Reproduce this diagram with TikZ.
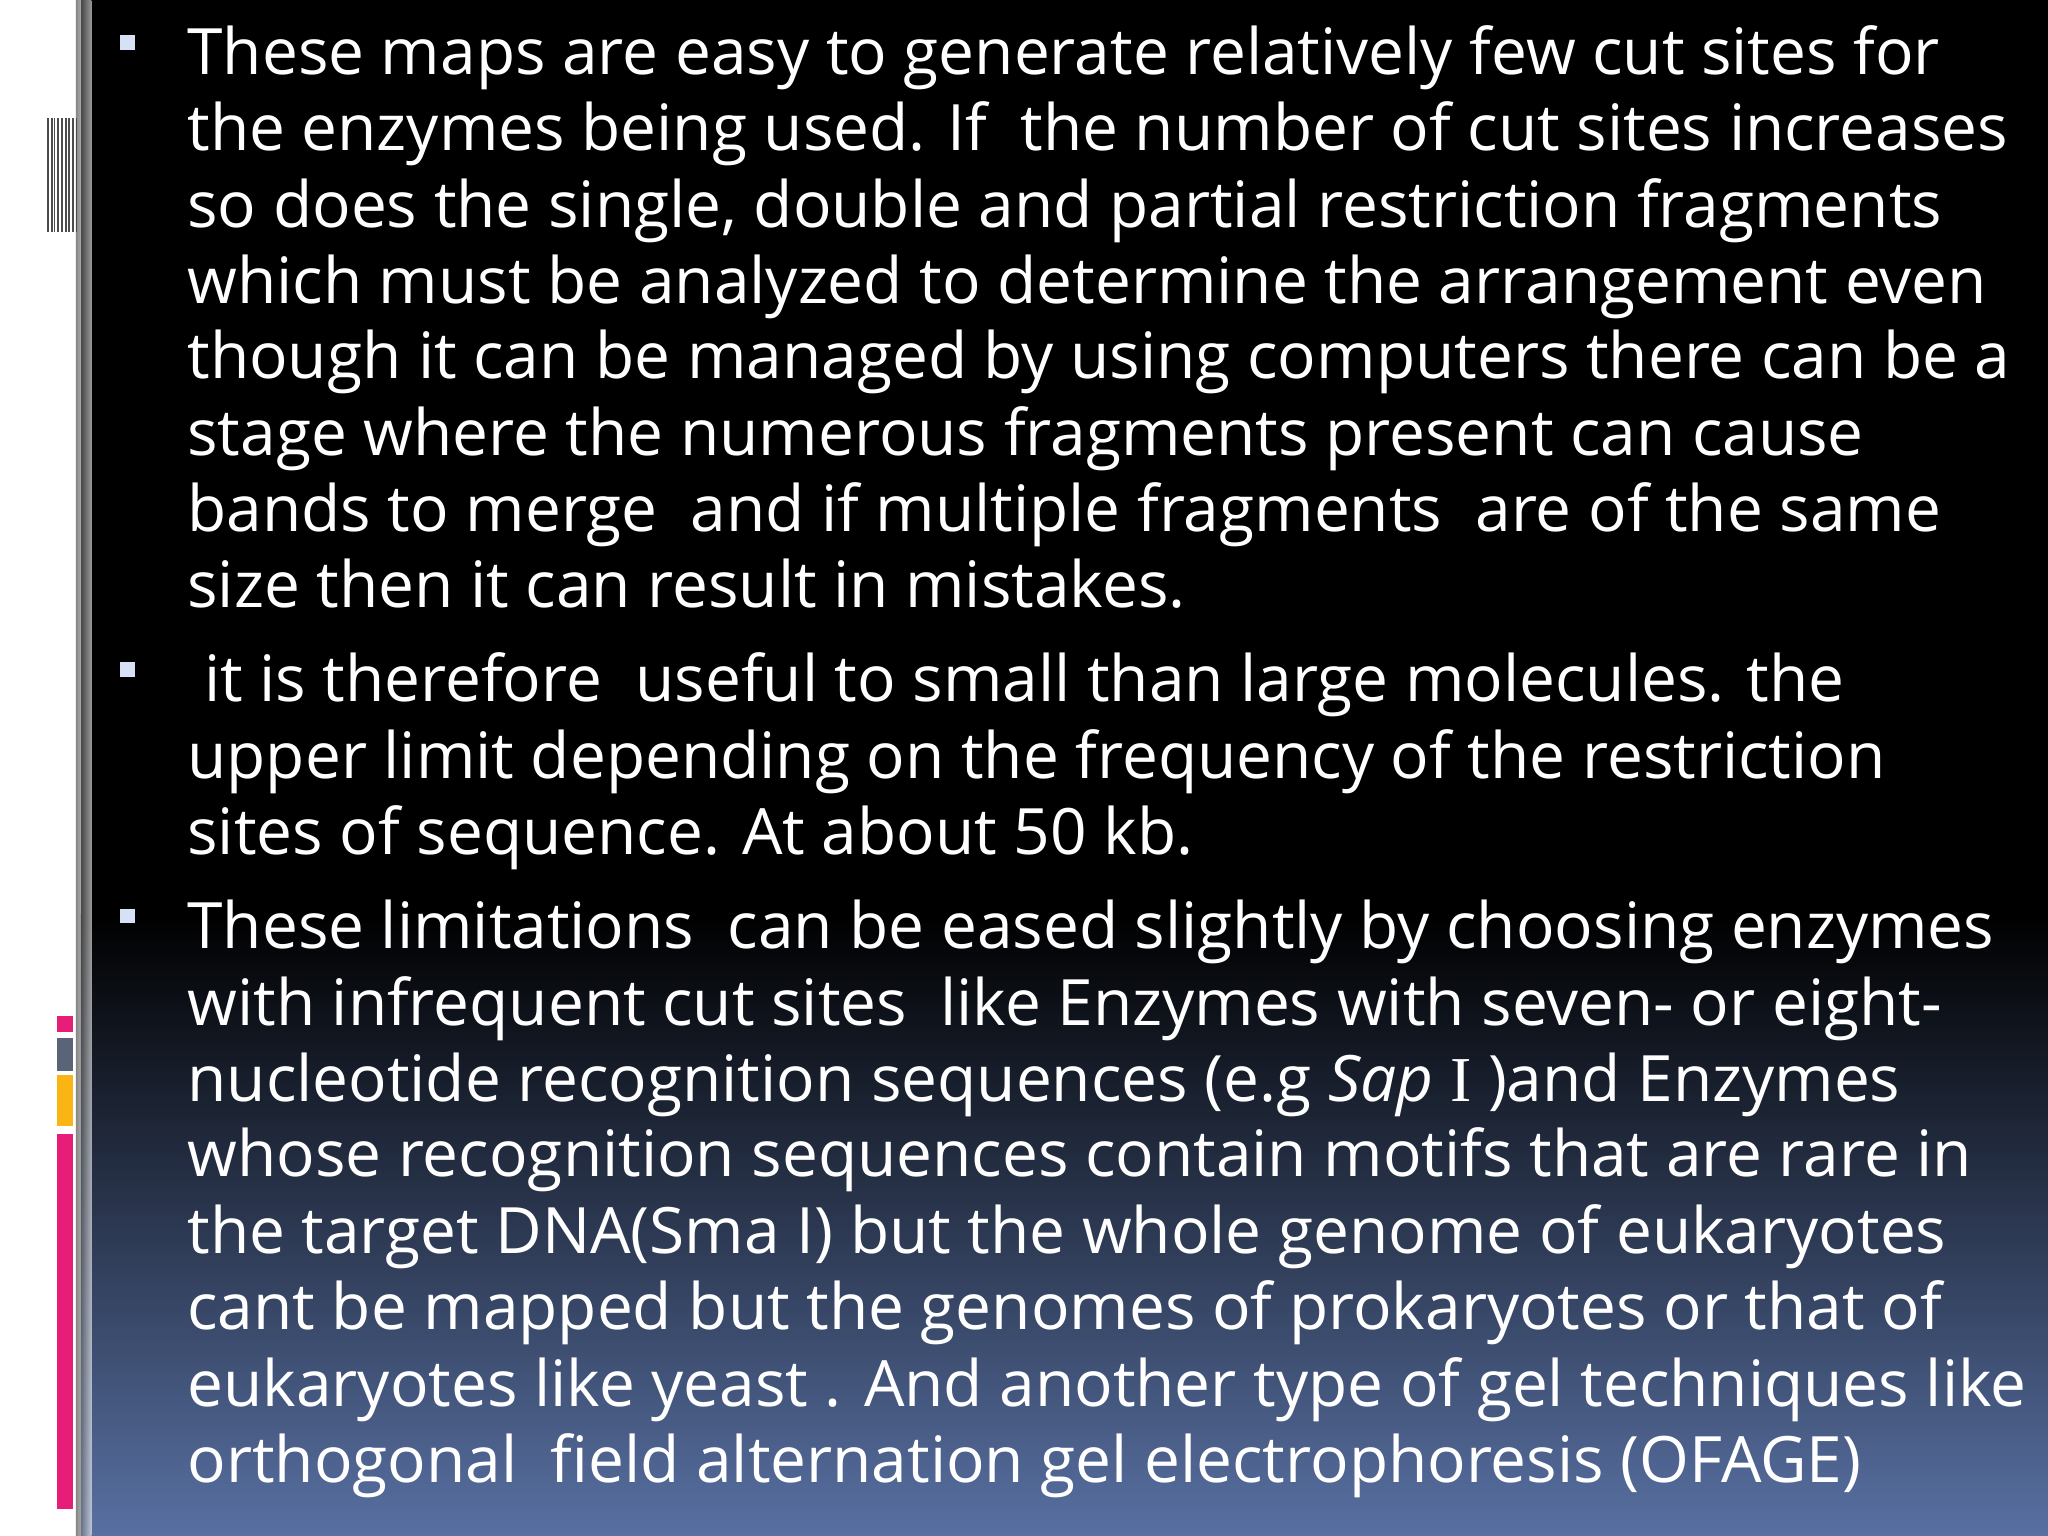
\documentclass[tikz,border=0pt]{standalone}
\usepackage{fontspec}
\setmainfont{Open Sans}
\newfontfamily\serifI{Liberation Serif}
\definecolor{slate}{RGB}{88,112,162}
\definecolor{barpink}{RGB}{230,30,120}
\definecolor{bargray}{RGB}{90,100,120}
\definecolor{barorange}{RGB}{250,180,20}
\definecolor{bulletblue}{RGB}{215,225,245}
\tikzset{
  line/.style={anchor=base west, text=white, inner sep=0pt, font=\fontsize{18.2}{22}\selectfont},
  bullet/.style={fill=bulletblue}
}
\begin{document}
\begin{tikzpicture}[x=0.01306cm, y=-0.01306cm]
\useasboundingbox (0,0) rectangle (1568,1176);
% Background
\fill[white] (0,0) rectangle (1568,1176);
\fill[black] (62,0) rectangle (1568,700);
\shade[top color=black, bottom color=slate] (62,700) rectangle (1568,1176);
\shade[left color=black!80, right color=black!0, opacity=0.6] (58,0) rectangle (70,1176);

% Left decorations
\foreach \x in {36,39,41,44,47,50,52,55,58}
  \fill[black!70] (\x,90) rectangle +(1.3,88);
\fill[barpink] (44,778) rectangle (56,790);
\fill[bargray] (44,795) rectangle (56,820);
\fill[barorange] (44,823) rectangle (56,862);
\fill[barpink] (44,868) rectangle (56,1155);

% Bullets
\fill[bullet] (92,27) rectangle +(11,11);
\fill[bullet] (92,507) rectangle +(11,11);
\fill[bullet] (92,696) rectangle +(11,11);

% First paragraph
\node[line] (a1) at (143,57) {These maps are easy to generate relatively few cut sites for};
\node[line] (a2) at (143,115) {the enzymes being used. If\ \ the number of cut sites increases};
\node[line] (a3) at (143,174) {so does the single, double and partial restriction fragments};
\node[line] (a4) at (143,232) {which must be analyzed to determine the arrangement even};
\node[line] (a5) at (143,290) {though it can be managed by using computers there can be a};
\node[line] (a6) at (143,349) {stage where the numerous fragments present can cause};
\node[line] (a7) at (143,407) {bands to merge\ \ and if multiple fragments\ \ are of the same};
\node[line] (a8) at (143,465) {size then it can result in mistakes.};

% Second paragraph
\node[line] (b1) at (143,537) {\ it is therefore\ \ useful to small than large molecules. the};
\node[line] (b2) at (143,596) {upper limit depending on the frequency of the restriction};
\node[line] (b3) at (143,654) {sites of sequence. At about 50 kb.};

% Third paragraph
\node[line] (c1) at (143,726) {These limitations\ \ can be eased slightly by choosing enzymes};
\node[line] (c2) at (143,785) {with infrequent cut sites\ \ like Enzymes with seven- or eight-};
\node[line] (c3) at (143,843) {nucleotide recognition sequences (e.g \textit{Sap} {\serifI I} )and Enzymes};
\node[line] (c4) at (143,901) {whose recognition sequences contain motifs that are rare in};
\node[line] (c5) at (143,960) {the target DNA(Sma I) but the whole genome of eukaryotes};
\node[line] (c6) at (143,1018) {cant be mapped but the genomes of prokaryotes or that of};
\node[line] (c7) at (143,1077) {eukaryotes like yeast . And another type of gel techniques like};
\node[line] (c8) at (143,1135) {orthogonal\ \ field alternation gel electrophoresis (OFAGE)};
\end{tikzpicture}
\end{document}
